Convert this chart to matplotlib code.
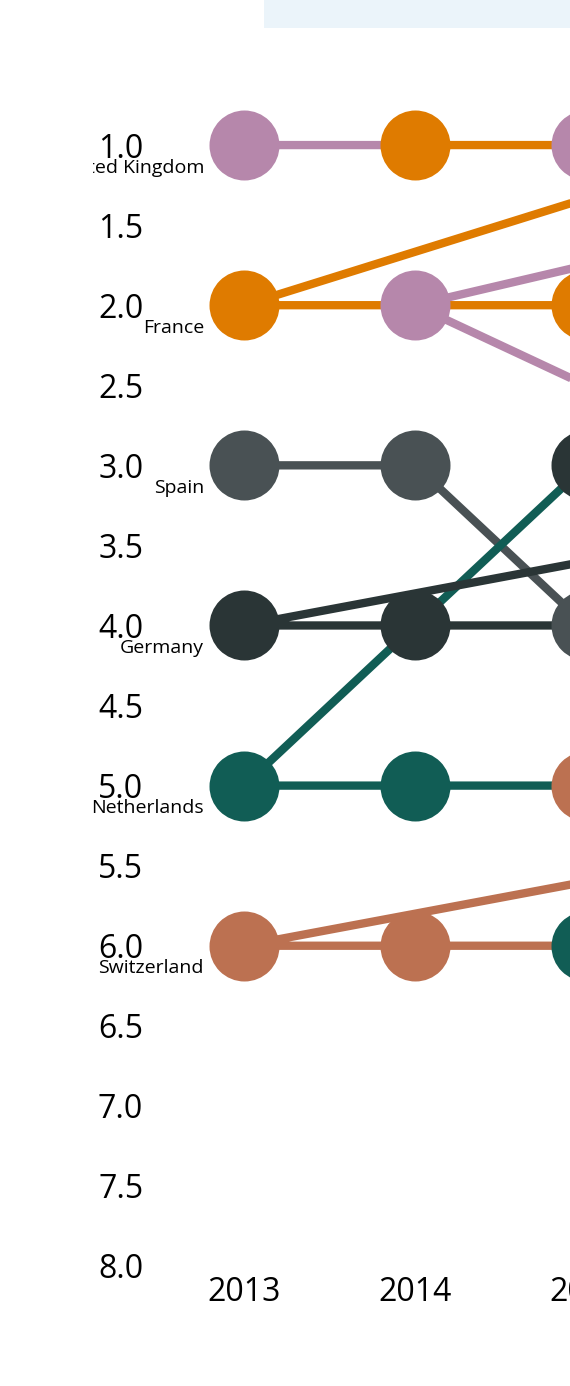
import numpy as np
import matplotlib.pyplot as plt
from matplotlib.patches import Rectangle

plt.rcParams['font.family'] = ['Open Sans', 'DejaVu Sans']

# ranks shown as circles, one per year
years = [2013, 2014, 2015]
countries = ["United Kingdom", "France", "Spain", "Netherlands", "Germany", "Switzerland"]
uk_ranks = [1, 2, 1]
france_ranks = [2, 1, 2]
spain_ranks = [3, 3, 4]
netherlands_ranks = [5, 5, 6]
germany_ranks = [4, 4, 3]
switzerland_ranks = [6, 6, 5]

# connecting lines as drawn (nan = break)
nan = np.nan
uk_line_x = [2013, 2014, nan, 2018, 2014, 2016]
uk_line_y = [1, 1, nan, 1, 2, 3]
france_line_x = [2016, 2013, 2014, 2015, nan, 2014, 2015]
france_line_y = [1, 2, 2, 2, nan, 1, 1]
spain_line_x = [2013, 2014, 2015]
spain_line_y = [3, 3, 4]
netherlands_line_x = [2015, 2014, 2013, 2014, 2015]
netherlands_line_y = [3, 4, 5, 5, 5]
germany_line_x = [2018, 2013, 2014, 2015]
germany_line_y = [3, 4, 4, 4]
switzerland_line_x = [2018, 2013, 2014, 2015]
switzerland_line_y = [5, 6, 6, 6]

yticks = np.arange(1.0, 8.01, 0.5)

colors = {
    "United Kingdom": "#b687ab",
    "France": "#df7b00",
    "Spain": "#495154",
    "Netherlands": "#115d55",
    "Germany": "#2a3536",
    "Switzerland": "#bc7151",
}
ranks = {
    "United Kingdom": uk_ranks,
    "France": france_ranks,
    "Spain": spain_ranks,
    "Netherlands": netherlands_ranks,
    "Germany": germany_ranks,
    "Switzerland": switzerland_ranks,
}
lines = {
    "United Kingdom": (uk_line_x, uk_line_y),
    "France": (france_line_x, france_line_y),
    "Spain": (spain_line_x, spain_line_y),
    "Netherlands": (netherlands_line_x, netherlands_line_y),
    "Germany": (germany_line_x, germany_line_y),
    "Switzerland": (switzerland_line_x, switzerland_line_y),
}

W, H = 570, 1386
fig = plt.figure(figsize=(W / 100, H / 100), dpi=100)
fig.patches.append(Rectangle((264 / W, 1 - 28 / H), 1, 28 / H, transform=fig.transFigure,
                             facecolor="#ebf4fa", edgecolor="none"))

ax = fig.add_axes([158.5 / W, (H - 1266) / H, 1026 / W, (1266 - 65) / H])
ax.set_xlim(2012.5, 2018.5)
ax.set_ylim(8.0, 0.5)

for c in countries:
    lx, ly = lines[c]
    ax.plot(lx, ly, color=colors[c], lw=6, solid_capstyle="butt", zorder=2, clip_on=False)

for c in countries:
    ax.scatter(years, ranks[c], s=50.4 ** 2, color=colors[c], linewidths=0, zorder=3, clip_on=False)

clip = Rectangle((93 / W, 0), 1, 1, transform=fig.transFigure, facecolor="none")
for c in countries:
    t = ax.annotate(c, (years[0], ranks[c][0]), xytext=(-28.8, -16.3), textcoords="offset points",
                    ha="right", va="center", fontsize=14, zorder=4)
    t.set_clip_path(clip)

ax.set_yticks(yticks)
ax.set_yticklabels([f"{v:.1f}" for v in yticks])
ax.set_xticks(years)
ax.set_xticklabels([str(y) for y in years])
ax.tick_params(axis="y", length=0, pad=11, labelsize=23)
ax.tick_params(axis="x", length=0, pad=7, labelsize=23)
for s in ax.spines.values():
    s.set_visible(False)

fig.savefig("out.png", dpi=100)
